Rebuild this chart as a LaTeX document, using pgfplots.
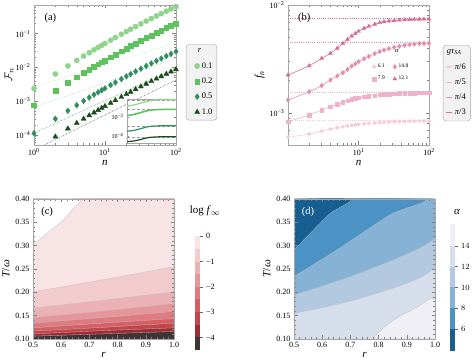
\documentclass[border=0pt]{standalone}
\usepackage{fontspec}
\setmainfont{Liberation Serif}
\usepackage{pgfplots}
\pgfplotsset{compat=1.18}
\usepackage{pgfplotstable}

\definecolor{grnA}{HTML}{8FD48A}
\definecolor{grnB}{HTML}{5EC25E}
\definecolor{grnC}{HTML}{2F8F5F}
\definecolor{grnD}{HTML}{1B4D1B}
\definecolor{pnkA}{HTML}{F7CADA}
\definecolor{pnkB}{HTML}{F0B2CA}
\definecolor{pnkC}{HTML}{E58CAE}
\definecolor{pnkD}{HTML}{D86B94}
\definecolor{redA}{HTML}{FFFFFF}
\definecolor{redB}{HTML}{F8E4E5}
\definecolor{redC}{HTML}{F2CBCD}
\definecolor{redD}{HTML}{ECB1B4}
\definecolor{redE}{HTML}{E5969A}
\definecolor{redF}{HTML}{DE7B80}
\definecolor{redG}{HTML}{D45F65}
\definecolor{redH}{HTML}{C5444B}
\definecolor{redI}{HTML}{9E2D33}
\definecolor{redK}{HTML}{3E3535}
\definecolor{bluA}{HTML}{EFEFF5}
\definecolor{bluB}{HTML}{D6DDEB}
\definecolor{bluC}{HTML}{B3C9E0}
\definecolor{bluD}{HTML}{86B2D6}
\definecolor{bluE}{HTML}{4B93C4}
\definecolor{bluF}{HTML}{175F90}

% panel (a): log10 n, log10 F_n
\pgfplotstableread{
L a b c d
0 -2.620 -3.120 -3.950 -4.480
0.30103 -2.194 -2.694 -3.524 -4.054
0.47712 -1.956 -2.456 -3.286 -3.816
0.60206 -1.791 -2.291 -3.121 -3.651
0.69897 -1.665 -2.165 -2.995 -3.525
0.77815 -1.564 -2.064 -2.894 -3.424
0.84510 -1.480 -1.980 -2.810 -3.340
0.90309 -1.408 -1.908 -2.738 -3.268
0.95424 -1.346 -1.846 -2.676 -3.206
1 -1.290 -1.790 -2.620 -3.150
1.07918 -1.195 -1.695 -2.525 -3.055
1.14613 -1.116 -1.616 -2.446 -2.976
1.23045 -1.018 -1.518 -2.348 -2.878
1.30103 -0.937 -1.437 -2.267 -2.797
1.36173 -0.868 -1.368 -2.198 -2.728
1.43136 -0.790 -1.290 -2.120 -2.650
1.50515 -0.709 -1.209 -2.039 -2.569
1.57978 -0.629 -1.129 -1.959 -2.489
1.65321 -0.551 -1.051 -1.881 -2.411
1.72428 -0.477 -0.977 -1.807 -2.337
1.79239 -0.407 -0.907 -1.737 -2.267
1.86332 -0.335 -0.835 -1.665 -2.195
1.92942 -0.269 -0.769 -1.599 -2.129
2 -0.200 -0.700 -1.530 -2.060
}\tabA

% panel (b): log10 n, log10 f_n
\pgfplotstableread{
L c s d t
0 -3.225 -3.080 -2.880 -2.648
0.30103 -3.194 -3.018 -2.803 -2.562
0.47712 -3.167 -2.972 -2.747 -2.494
0.60206 -3.148 -2.940 -2.694 -2.447
0.69897 -3.136 -2.917 -2.657 -2.400
0.77815 -3.127 -2.898 -2.627 -2.355
0.84510 -3.120 -2.885 -2.596 -2.318
0.90309 -3.114 -2.873 -2.565 -2.287
0.95424 -3.109 -2.865 -2.545 -2.265
1 -3.105 -2.858 -2.525 -2.244
1.07918 -3.100 -2.850 -2.497 -2.215
1.14613 -3.096 -2.844 -2.476 -2.198
1.23045 -3.092 -2.838 -2.450 -2.178
1.30103 -3.088 -2.832 -2.432 -2.163
1.36173 -3.085 -2.828 -2.418 -2.155
1.43136 -3.082 -2.824 -2.404 -2.148
1.50515 -3.080 -2.821 -2.392 -2.144
1.57978 -3.078 -2.818 -2.382 -2.140
1.65321 -3.077 -2.816 -2.373 -2.137
1.72428 -3.076 -2.815 -2.367 -2.135
1.79239 -3.075 -2.814 -2.362 -2.133
1.86332 -3.074 -2.813 -2.358 -2.132
1.92942 -3.074 -2.812 -2.356 -2.131
2 -3.074 -2.812 -2.355 -2.130
}\tabB

\pgfplotsset{
  panel/.style={scale only axis, anchor=south west,
    axis line style={black!35}, every tick/.style={black!50, line width=0.35pt},
    major tick length=3.5pt, minor tick length=2pt, tick align=inside,
    tick label style={font=\fontsize{8}{9}\selectfont},
    label style={font=\fontsize{11}{12}\selectfont}},
  logx/.style={xmin=0, xmax=2, xtick={0,1,2},
    minor xtick={0.30103,0.47712,0.60206,0.69897,0.77815,0.84510,0.90309,0.95424,1.30103,1.47712,1.60206,1.69897,1.77815,1.84510,1.90309,1.95424}},
  cb/.style={scale only axis, anchor=south west, width=5pt, height=127pt,
    xmin=0, xmax=1, xtick=\empty, axis line style={draw=none},
    ytick pos=right, yticklabel pos=right, tick align=outside,
    every tick/.style={black!60, line width=0.35pt}, major tick length=2.5pt,
    tick label style={font=\fontsize{8}{9}\selectfont}},
  asym/.style={dash pattern=on 1pt off 1.2pt, line width=0.7pt},
}

\begin{document}
\begin{tikzpicture}
\useasboundingbox (0pt,0pt) rectangle (474pt,363pt);

% ---------------- (a) ----------------
\begin{axis}[panel, logx, at={(34pt,218pt)}, width=142pt, height=140pt,
  ymin=-4.3, ymax=-0.15,
  xticklabels={10\textsuperscript{0},10\textsuperscript{1},10\textsuperscript{2}},
  ytick={-4,-3,-2,-1},
  yticklabels={10\textsuperscript{−4},10\textsuperscript{−3},10\textsuperscript{−2},10\textsuperscript{−1}},
  minor ytick={-4.222,-4.155,-4.097,-4.046,-3.699,-3.523,-3.398,-3.301,-3.222,-3.155,-3.097,-3.046,-2.699,-2.523,-2.398,-2.301,-2.222,-2.155,-2.097,-2.046,-1.699,-1.523,-1.398,-1.301,-1.222,-1.155,-1.097,-1.046,-0.699,-0.523,-0.398,-0.301,-0.222,-0.155},
  xlabel={\textit{n}}, ylabel={$\mathcal{F}_n$},
  xlabel style={yshift=2pt}, ylabel style={yshift=-5pt},
  legend style={at={(1.07,0.721)}, anchor=north west, draw=black!35, fill=black!5,
    rounded corners=3pt, font=\fontsize{8.5}{10}\selectfont, row sep=4.2pt,
    inner sep=2.5pt},
  legend cell align=left,
]
\addplot[color=grnA!70, densely dotted, line width=0.5pt, forget plot] coordinates {(0,-2.586) (2,-1.266)};
\addplot[color=grnB!70, densely dotted, line width=0.5pt, forget plot] coordinates {(0,-3.178) (2,-1.728)};
\addplot[color=grnC, densely dotted, line width=0.5pt, forget plot] coordinates {(0,-3.947) (2,-2.024)};
\addplot[color=grnD, densely dotted, line width=0.5pt, forget plot] coordinates {(0,-4.45) (2,-2.37)};
\addlegendimage{empty legend}\addlegendentry{\hspace{-4pt}\textit{r}}
\addplot[only marks, mark=*, mark size=2.6pt, color=grnA, mark options={draw=grnA, fill=grnA}] table[x=L, y=a] {\tabA};
\addlegendentry{0.1}
\addplot[only marks, mark=square*, mark size=2.4pt, color=grnB, mark options={draw=grnB, fill=grnB}] table[x=L, y=b] {\tabA};
\addlegendentry{0.2}
\addplot[only marks, mark=diamond*, mark size=2.9pt, color=grnC, mark options={draw=grnC, fill=grnC}] table[x=L, y=c] {\tabA};
\addlegendentry{0.5}
\addplot[only marks, mark=triangle*, mark size=2.9pt, color=grnD, mark options={draw=grnD, fill=grnD}] table[x=L, y=d] {\tabA};
\addlegendentry{1.0}
\node[font=\fontsize{10.5}{12}\selectfont] at (rel axis cs:0.115,0.905) {(a)};
\end{axis}

% inset
\begin{axis}[panel, at={(127pt,220pt)}, width=49pt, height=44pt,
  xmin=0, xmax=2, ymin=-4.37, ymax=-2.05, xtick=\empty,
  ytick={-4,-3}, yticklabels={10\textsuperscript{−4},10\textsuperscript{−3}},
  tick label style={font=\fontsize{6}{7}\selectfont},
  axis background/.style={fill=white}, major tick length=2pt]
\addplot[color=black!40, densely dashed, line width=0.4pt] coordinates {(0,-2.09) (2,-2.09)};
\addplot[color=black!40, densely dashed, line width=0.4pt] coordinates {(0,-2.60) (2,-2.60)};
\addplot[color=black!40, densely dashed, line width=0.4pt] coordinates {(0,-3.46) (2,-3.46)};
\addplot[color=black!40, densely dashed, line width=0.4pt] coordinates {(0,-4.04) (2,-4.04)};
\addplot[color=grnA, line width=1.2pt, smooth] coordinates {(0,-2.42) (0.3,-2.36) (0.6,-2.25) (0.9,-2.15) (1.2,-2.10) (1.5,-2.09) (2,-2.09)};
\addplot[color=grnB, line width=1.6pt, smooth] coordinates {(0,-2.92) (0.3,-2.86) (0.6,-2.75) (0.9,-2.65) (1.2,-2.61) (1.5,-2.60) (2,-2.60)};
\addplot[color=grnC, line width=1.2pt, smooth] coordinates {(0,-3.75) (0.3,-3.70) (0.6,-3.60) (0.9,-3.50) (1.2,-3.47) (1.5,-3.46) (2,-3.46)};
\addplot[color=grnD, line width=1.2pt, smooth] coordinates {(0,-4.30) (0.3,-4.26) (0.6,-4.17) (0.9,-4.08) (1.2,-4.05) (1.5,-4.04) (2,-4.04)};
\end{axis}

% ---------------- (b) ----------------
\begin{axis}[panel, logx, at={(288pt,218pt)}, width=141pt, height=140pt,
  ymin=-3.296, ymax=-2,
  xticklabels={,10\textsuperscript{1},10\textsuperscript{2}},
  ytick={-3,-2},
  yticklabels={10\textsuperscript{−3},10\textsuperscript{−2}},
  minor ytick={-3.222,-3.155,-3.097,-3.046,-2.699,-2.523,-2.398,-2.301,-2.222,-2.155,-2.097,-2.046},
  xlabel={\textit{n}}, ylabel={\textit{f\textsubscript{n}}},
  xlabel style={yshift=2pt}, ylabel style={yshift=-2pt},
]
\addplot[draw=pnkA, asym] coordinates {(0,-3.07) (2,-3.07)};
\addplot[draw=pnkB, asym] coordinates {(0,-2.81) (2,-2.81)};
\addplot[draw=pnkC, asym] coordinates {(0,-2.349) (2,-2.349)};
\addplot[draw=pnkD, asym] coordinates {(0,-2.128) (2,-2.128)};
\addplot[draw=pnkA, line width=0.6pt, smooth] table[x=L, y=c] {\tabB};
\addplot[draw=pnkB, line width=0.6pt, smooth] table[x=L, y=s] {\tabB};
\addplot[draw=pnkC, line width=0.6pt, smooth] table[x=L, y=d] {\tabB};
\addplot[draw=pnkD, line width=0.6pt, smooth] table[x=L, y=t] {\tabB};
\addplot[only marks, mark=*, mark size=1.8pt, mark options={draw=pnkA, fill=pnkA}] table[x=L, y=c] {\tabB};
\addplot[only marks, mark=square*, mark size=1.8pt, mark options={draw=pnkB, fill=pnkB}] table[x=L, y=s] {\tabB};
\addplot[only marks, mark=diamond*, mark size=2.3pt, mark options={draw=pnkC, fill=pnkC}] table[x=L, y=d] {\tabB};
\addplot[only marks, mark=triangle*, mark size=2.2pt, mark options={draw=pnkD, fill=pnkD}] table[x=L, y=t] {\tabB};
\node[font=\fontsize{10.5}{12}\selectfont] at (rel axis cs:0.115,0.905) {(b)};
\end{axis}

% (b) legend: g tau_SA
\begin{axis}[scale only axis, anchor=south west, at={(288pt,218pt)}, width=141pt, height=140pt,
  hide axis, xmin=0, xmax=1, ymin=0, ymax=1,
  legend style={at={(1.099,0.714)}, anchor=north west, draw=black!35, fill=black!5,
    rounded corners=3pt, font=\fontsize{8.5}{10}\selectfont, row sep=4.2pt, inner sep=2.5pt},
  legend cell align=left]
\addlegendimage{empty legend}\addlegendentry{\hspace{-8pt}\textit{gτ}\textsubscript{\textit{SA}}}
\addlegendimage{legend image code/.code={\draw[pnkA, line width=1.1pt] (0pt,0pt) -- (6pt,0pt);}}\addlegendentry{\textit{π}/6}
\addlegendimage{legend image code/.code={\draw[pnkB, line width=1.1pt] (0pt,0pt) -- (6pt,0pt);}}\addlegendentry{\textit{π}/5}
\addlegendimage{legend image code/.code={\draw[pnkC, line width=1.1pt] (0pt,0pt) -- (6pt,0pt);}}\addlegendentry{\textit{π}/4}
\addlegendimage{legend image code/.code={\draw[pnkD, line width=1.1pt] (0pt,0pt) -- (6pt,0pt);}}\addlegendentry{\textit{π}/3}
\end{axis}

% (b) legend: alpha
\begin{axis}[scale only axis, anchor=south west, at={(288pt,218pt)}, width=141pt, height=140pt,
  hide axis, xmin=0, xmax=1, ymin=0, ymax=1,
  legend style={at={(0.59,0.6)}, anchor=north west, draw=none, fill=none,
    font=\fontsize{5.5}{6.5}\selectfont, row sep=3pt, inner sep=1pt,
    /tikz/every even column/.append style={column sep=6pt}},
  legend columns=2, legend cell align=left]
\addlegendimage{only marks, mark=*, mark size=1.8pt, mark options={draw=pnkA, fill=pnkA}}\addlegendentry{6.1}
\addlegendimage{only marks, mark=diamond*, mark size=2.3pt, mark options={draw=pnkC, fill=pnkC}}\addlegendentry{14.8}
\addlegendimage{only marks, mark=square*, mark size=1.8pt, mark options={draw=pnkB, fill=pnkB}}\addlegendentry{7.9}
\addlegendimage{only marks, mark=triangle*, mark size=2.2pt, mark options={draw=pnkD, fill=pnkD}}\addlegendentry{12.1}
\node[font=\fontsize{6.5}{7}\selectfont] at (rel axis cs:0.773,0.671) {\textit{α}};
\end{axis}

% ---------------- (c) ----------------
\begin{axis}[panel, at={(33pt,24pt)}, width=141pt, height=140pt,
  xmin=0.5, xmax=1, ymin=0.1, ymax=0.4, axis on top,
  xtick={0.5,0.6,0.7,0.8,0.9,1.0}, xticklabels={0.5,0.6,0.7,0.8,0.9,1.0},
  ytick={0.1,0.15,0.2,0.25,0.3,0.35,0.4},
  yticklabels={0.10,0.15,0.20,0.25,0.30,0.35,0.40},
  minor x tick num=4, minor y tick num=4,
  xlabel={\textit{r}}, ylabel={\textit{T}/\textit{ω}},
  xlabel style={yshift=3pt}, ylabel style={yshift=-1pt}]
\addplot[fill=redK, draw=none] coordinates {(0.5,0.1) (1,0.1) (1,0.4) (0.5,0.4)} -- cycle;
\addplot[fill=redI, draw=black!25, line width=0.3pt] coordinates {(0.5,0.106) (0.75,0.111) (1,0.116) (1,0.4) (0.5,0.4)} -- cycle;
\addplot[fill=redH, draw=black!25, line width=0.3pt] coordinates {(0.5,0.111) (0.75,0.118) (1,0.124) (1,0.4) (0.5,0.4)} -- cycle;
\addplot[fill=redG, draw=black!25, line width=0.3pt] coordinates {(0.5,0.117) (0.75,0.125) (1,0.134) (1,0.4) (0.5,0.4)} -- cycle;
\addplot[fill=redF, draw=black!25, line width=0.3pt] coordinates {(0.5,0.124) (0.75,0.134) (1,0.144) (1,0.4) (0.5,0.4)} -- cycle;
\addplot[fill=redE, draw=black!25, line width=0.3pt] coordinates {(0.5,0.134) (0.75,0.146) (1,0.159) (1,0.4) (0.5,0.4)} -- cycle;
\addplot[fill=redD, draw=black!25, line width=0.3pt] coordinates {(0.5,0.146) (0.75,0.160) (1,0.176) (1,0.4) (0.5,0.4)} -- cycle;
\addplot[fill=redC, draw=black!25, line width=0.3pt] coordinates {(0.5,0.166) (0.75,0.183) (1,0.201) (1,0.4) (0.5,0.4)} -- cycle;
\addplot[fill=redB, draw=black!25, line width=0.3pt] coordinates {(0.5,0.201) (0.75,0.227) (1,0.255) (1,0.4) (0.5,0.4)} -- cycle;
\addplot[fill=redA, draw=black!25, line width=0.3pt, smooth] coordinates {(0.5,0.301) (0.548,0.326) (0.608,0.355) (0.643,0.38) (0.664,0.40) (0.5,0.40)} -- cycle;
\node[font=\fontsize{10.5}{12}\selectfont] at (axis cs:0.55,0.372) {(c)};
\end{axis}
\begin{axis}[cb, at={(195pt,13pt)}, ymin=-4.5, ymax=0.53,
  ytick={0,-1,-2,-3,-4}, yticklabels={0,−1,−2,−3,−4}]
\addplot[fill=redA, draw=none] coordinates {(0,0) (1,0) (1,0.53) (0,0.53)} -- cycle;
\addplot[fill=redB, draw=none] coordinates {(0,-0.5) (1,-0.5) (1,0) (0,0)} -- cycle;
\addplot[fill=redC, draw=none] coordinates {(0,-1) (1,-1) (1,-0.5) (0,-0.5)} -- cycle;
\addplot[fill=redD, draw=none] coordinates {(0,-1.5) (1,-1.5) (1,-1) (0,-1)} -- cycle;
\addplot[fill=redE, draw=none] coordinates {(0,-2) (1,-2) (1,-1.5) (0,-1.5)} -- cycle;
\addplot[fill=redF, draw=none] coordinates {(0,-2.5) (1,-2.5) (1,-2) (0,-2)} -- cycle;
\addplot[fill=redG, draw=none] coordinates {(0,-3) (1,-3) (1,-2.5) (0,-2.5)} -- cycle;
\addplot[fill=redH, draw=none] coordinates {(0,-3.5) (1,-3.5) (1,-3) (0,-3)} -- cycle;
\addplot[fill=redI, draw=none] coordinates {(0,-4) (1,-4) (1,-3.5) (0,-3.5)} -- cycle;
\addplot[fill=redK, draw=none] coordinates {(0,-4.5) (1,-4.5) (1,-4) (0,-4)} -- cycle;
\end{axis}
\node[font=\fontsize{11}{12}\selectfont] at (205pt,152pt) {log \textit{f}$_\infty$};

% ---------------- (d) ----------------
\begin{axis}[panel, at={(294pt,24pt)}, width=141pt, height=140pt,
  xmin=0.5, xmax=1, ymin=0.1, ymax=0.4, axis on top,
  xtick={0.5,0.6,0.7,0.8,0.9,1.0}, xticklabels={0.5,0.6,0.7,0.8,0.9,1.0},
  ytick={0.1,0.15,0.2,0.25,0.3,0.35,0.4},
  yticklabels={0.10,0.15,0.20,0.25,0.30,0.35,0.40},
  minor x tick num=4, minor y tick num=4,
  xlabel={\textit{r}}, ylabel={\textit{T}/\textit{ω}},
  xlabel style={yshift=3pt}, ylabel style={yshift=-1pt}]
\addplot[fill=bluB, draw=none] coordinates {(0.5,0.1) (1,0.1) (1,0.4) (0.5,0.4)} -- cycle;
\addplot[fill=bluA, draw=black!25, line width=0.3pt, smooth] coordinates {(0.78,0.10) (0.81,0.12) (0.86,0.143) (0.93,0.166) (1.0,0.185) (1.0,0.10)} -- cycle;
\addplot[fill=bluC, draw=black!25, line width=0.3pt, smooth] coordinates {(0.5,0.155) (0.75,0.19) (1.0,0.255) (1,0.4) (0.5,0.4)} -- cycle;
\addplot[fill=bluD, draw=black!25, line width=0.3pt, smooth] coordinates {(0.5,0.194) (0.75,0.245) (1.0,0.316) (1,0.4) (0.5,0.4)} -- cycle;
\addplot[fill=bluE, draw=black!25, line width=0.3pt, smooth] coordinates {(0.5,0.234) (0.66,0.294) (0.84,0.366) (0.955,0.40) (0.5,0.4)} -- cycle;
\addplot[fill=bluF, draw=black!25, line width=0.3pt, smooth] coordinates {(0.5,0.291) (0.557,0.326) (0.628,0.369) (0.70,0.40) (0.5,0.40)} -- cycle;
\node[font=\fontsize{10.5}{12}\selectfont, text=white] at (axis cs:0.55,0.372) {(d)};
\end{axis}
\begin{axis}[cb, at={(450pt,12pt)}, ymin=3.9, ymax=16.1,
  ytick={6,8,10,12,14}]
\addplot[fill=bluF, draw=none] coordinates {(0,3.9) (1,3.9) (1,6) (0,6)} -- cycle;
\addplot[fill=bluE, draw=none] coordinates {(0,6) (1,6) (1,8) (0,8)} -- cycle;
\addplot[fill=bluD, draw=none] coordinates {(0,8) (1,8) (1,10) (0,10)} -- cycle;
\addplot[fill=bluC, draw=none] coordinates {(0,10) (1,10) (1,12) (0,12)} -- cycle;
\addplot[fill=bluB, draw=none] coordinates {(0,12) (1,12) (1,14) (0,14)} -- cycle;
\addplot[fill=bluA, draw=none] coordinates {(0,14) (1,14) (1,16.1) (0,16.1)} -- cycle;
\end{axis}
\node[font=\fontsize{11}{12}\selectfont] at (457pt,151pt) {\textit{α}};
\end{tikzpicture}
\end{document}
